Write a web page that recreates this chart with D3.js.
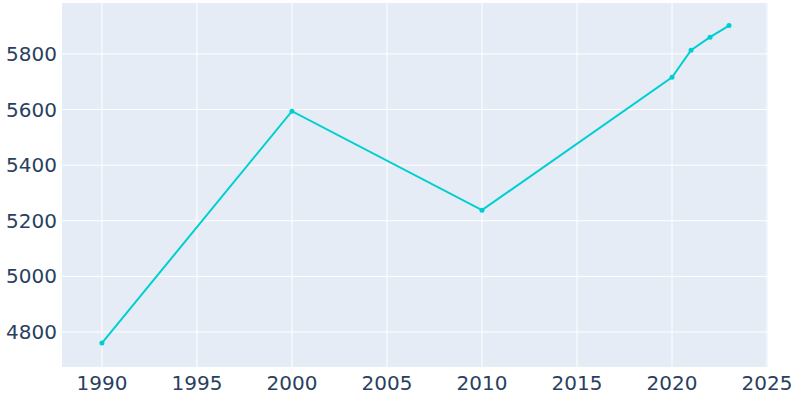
<!DOCTYPE html><html><head><script src="https://cdn.jsdelivr.net/npm/d3@7"></script>
<style>body{margin:0}svg{font-family:"DejaVu Sans",sans-serif}</style></head><body><svg width="800" height="400"></svg>
<script>
const years=[1990,2000,2010,2020,2021,2022,2023];
const population=[4760,5594,5238,5716,5813,5860,5902];
const xTicks=[1990,1995,2000,2005,2010,2015,2020,2025];
const yTicks=[4800,5000,5200,5400,5600,5800];
const svg=d3.select("svg");
const L=62,R=768,T=3,B=367;
const x=d3.scaleLinear().domain([1987.9,2025.05]).range([L,R]);
const y=d3.scaleLinear().domain([4674,5983]).range([B,T]);
svg.append("rect").attr("x",L).attr("y",T).attr("width",R-L).attr("height",B-T).attr("fill","#e5ecf6");
svg.selectAll(".gx").data(xTicks).join("line").attr("x1",d=>x(d)).attr("x2",d=>x(d)).attr("y1",T).attr("y2",B).attr("stroke","#fff");
svg.selectAll(".gy").data(yTicks).join("line").attr("y1",d=>y(d)).attr("y2",d=>y(d)).attr("x1",L).attr("x2",R).attr("stroke","#fff");
svg.selectAll(".tx").data(xTicks).join("text").attr("x",d=>x(d)).attr("y",390).attr("text-anchor","middle").attr("font-size",20).attr("fill","#2a3f5f").text(d=>d);
svg.selectAll(".ty").data(yTicks).join("text").attr("x",L-5).attr("y",d=>y(d)+7).attr("text-anchor","end").attr("font-size",20).attr("fill","#2a3f5f").text(d=>d);
const pts=years.map((d,i)=>[d,population[i]]);
svg.append("path").attr("d",d3.line().x(d=>x(d[0])).y(d=>y(d[1]))(pts)).attr("fill","none").attr("stroke","#00cfd1").attr("stroke-width",2);
svg.selectAll(".p").data(pts).join("circle").attr("cx",d=>x(d[0])).attr("cy",d=>y(d[1])).attr("r",2.5).attr("fill","#00cfd1");
</script></body></html>
